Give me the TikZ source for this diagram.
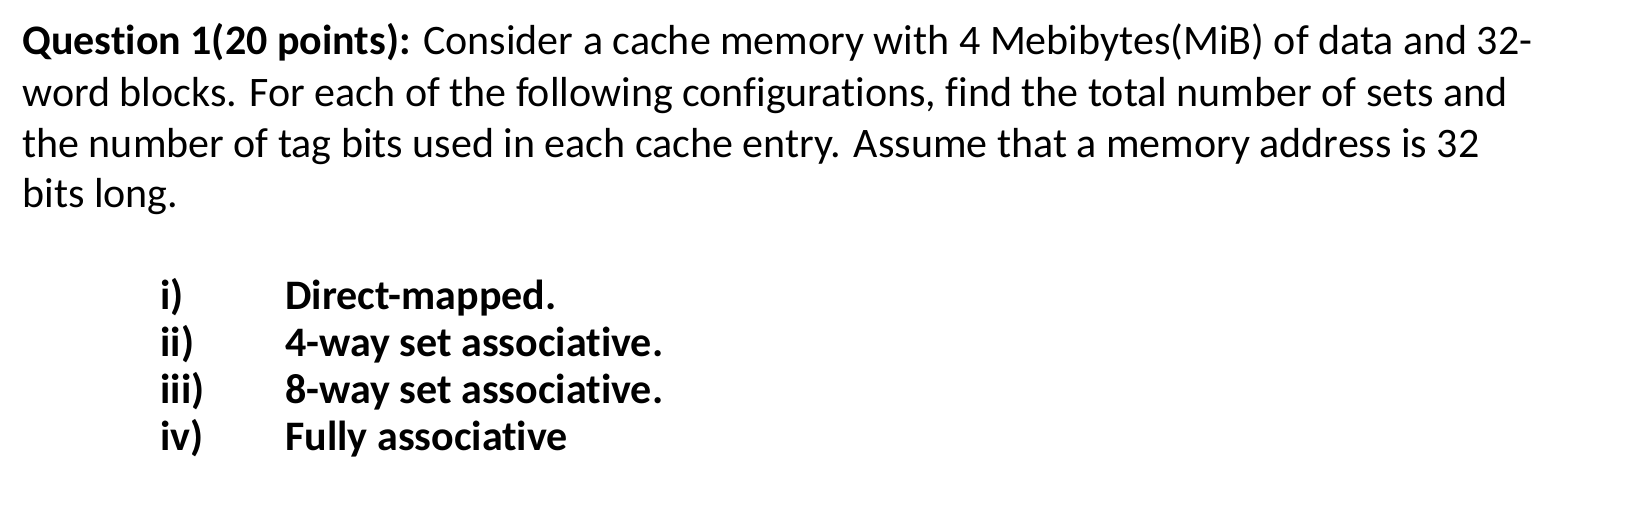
\documentclass[tikz,border=0pt]{standalone}
\usepackage{fontspec}
\setmainfont[Ligatures={NoCommon,NoRare,NoContextual},RawFeature={-liga;-dlig;-clig}]{Carlito}
\begin{document}
\begin{tikzpicture}[x=0.5pt,y=-0.5pt,txt/.style={anchor=base west,inner sep=0pt,font=\fontsize{21}{25}\selectfont}]
\useasboundingbox (0,0) rectangle (1629,506);
\node[txt] (l1) at (22,55) {\textbf{Question 1(20 points):} Consider a cache memory with 4 Mebibytes(MiB) of data and 32-};
\node[txt] (l2) at (22,107) {word blocks. For each of the following configurations, find the total number of sets and};
\node[txt] (l3) at (22,158) {the number of tag bits used in each cache entry. Assume that a memory address is 32};
\node[txt] (l4) at (22,208) {bits long.};
\node[txt] (a1) at (160,310) {\textbf{i)}};
\node[txt] (a2) at (160,357) {\textbf{ii)}};
\node[txt] (a3) at (160,404) {\textbf{iii)}};
\node[txt] (a4) at (160,451) {\textbf{iv)}};
\node[txt] (b1) at (285,310) {\textbf{Direct-mapped.}};
\node[txt] (b2) at (285,357) {\textbf{4-way set associative.}};
\node[txt] (b3) at (285,404) {\textbf{8-way set associative.}};
\node[txt] (b4) at (285,451) {\textbf{Fully associative}};
\end{tikzpicture}
\end{document}
